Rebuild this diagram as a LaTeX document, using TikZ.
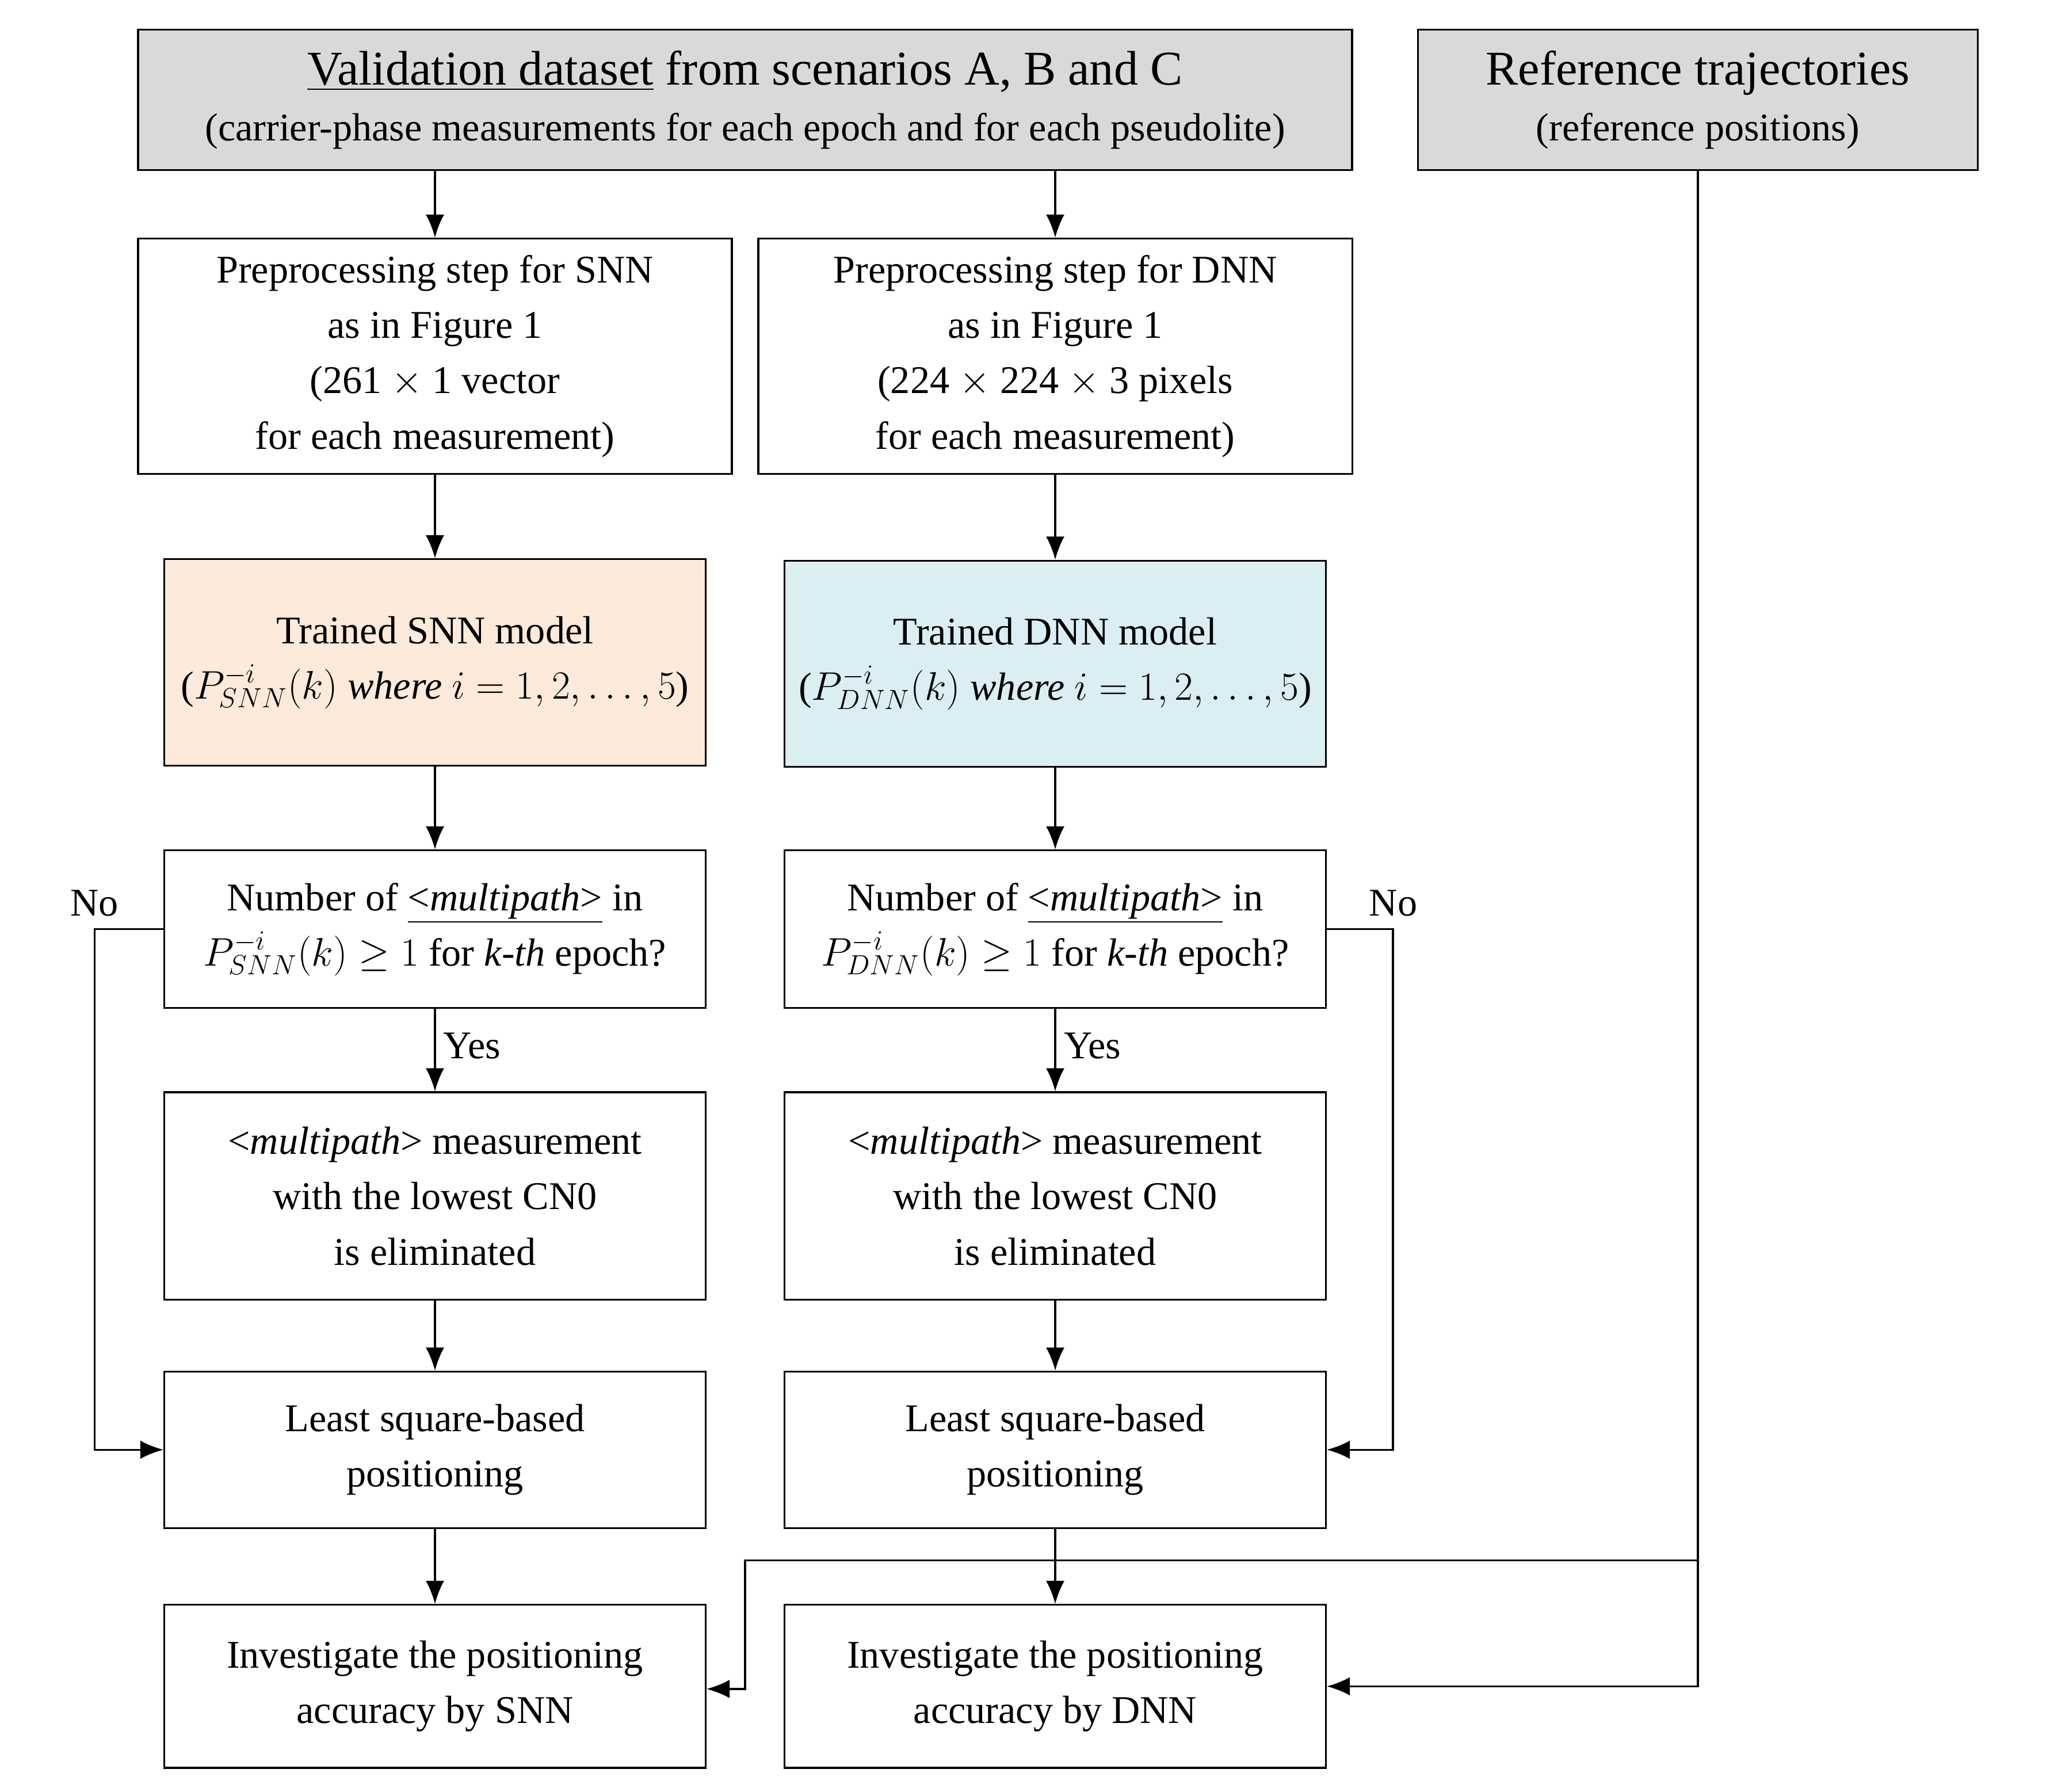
\documentclass[tikz,border=0pt]{standalone}
\usepackage{fontspec}
\setmainfont{Liberation Serif}
\usetikzlibrary{arrows.meta,positioning}
\definecolor{boxgray}{RGB}{217,217,217}
\definecolor{snnfill}{RGB}{253,234,218}
\definecolor{dnnfill}{RGB}{218,238,243}
\tikzset{
  box/.style={draw,thick,align=center,inner sep=2pt,font=\fontsize{17}{24}\selectfont},
  wbox/.style={box,minimum width=8.24cm},
  flow/.style={thick,-{Latex[length=10pt,width=8pt]}},
  lbl/.style={font=\fontsize{17}{20}\selectfont}
}
\begin{document}
\begin{tikzpicture}[x=0.02cm,y=-0.02cm]
\useasboundingbox (0,0) rectangle (1560,1363);
% top row
\node[box,fill=boxgray,minimum width=18.48cm,minimum height=2.14cm] (val) at (567,76)
  {{\fontsize{21}{26}\selectfont\underline{Validation dataset} from scenarios A, B and C}\\
   (carrier-phase measurements for each epoch and for each pseudolite)};
\node[box,fill=boxgray,minimum width=8.52cm,minimum height=2.14cm] (ref) at (1292,76)
  {{\fontsize{21}{26}\selectfont Reference trajectories}\\(reference positions)};
% preprocessing
\node[box,minimum width=9.04cm,minimum height=3.58cm] (preS) at (331,271)
  {Preprocessing step for SNN\\as in Figure 1\\(261 $\times$ 1 vector\\for each measurement)};
\node[box,minimum width=9.04cm,minimum height=3.58cm] (preD) at (803,271)
  {Preprocessing step for DNN\\as in Figure 1\\(224 $\times$ 224 $\times$ 3 pixels\\for each measurement)};
% models
\node[wbox,fill=snnfill,minimum height=3.14cm] (modS) at (331,504)
  {Trained SNN model\\($P^{-i}_{SNN}(k)$ \textit{where} $i=1,2,\ldots,5$)};
\node[wbox,fill=dnnfill,minimum height=3.14cm] (modD) at (803,505)
  {Trained DNN model\\($P^{-i}_{DNN}(k)$ \textit{where} $i=1,2,\ldots,5$)};
% decisions
\node[wbox,minimum height=2.4cm] (decS) at (331,707)
  {Number of \underline{<\textit{multipath}>} in\\$P^{-i}_{SNN}(k)\geq 1$ for \textit{k-th} epoch?};
\node[wbox,minimum height=2.4cm] (decD) at (803,707)
  {Number of \underline{<\textit{multipath}>} in\\$P^{-i}_{DNN}(k)\geq 1$ for \textit{k-th} epoch?};
% elimination
\node[wbox,minimum height=3.16cm] (elS) at (331,910)
  {<\textit{multipath}> measurement\\with the lowest CN0\\is eliminated};
\node[wbox,minimum height=3.16cm] (elD) at (803,910)
  {<\textit{multipath}> measurement\\with the lowest CN0\\is eliminated};
% positioning
\node[wbox,minimum height=2.38cm] (lsS) at (331,1103) {Least square-based\\positioning};
\node[wbox,minimum height=2.38cm] (lsD) at (803,1103) {Least square-based\\positioning};
% accuracy
\node[wbox,minimum height=2.48cm] (invS) at (331,1283) {Investigate the positioning\\accuracy by SNN};
\node[wbox,minimum height=2.48cm] (invD) at (803,1283) {Investigate the positioning\\accuracy by DNN};
% vertical flow
\draw[flow] (val.south -| preS) -- (preS);
\draw[flow] (val.south -| preD) -- (preD);
\draw[flow] (preS) -- (modS);
\draw[flow] (preD) -- (modD);
\draw[flow] (modS) -- (decS);
\draw[flow] (modD) -- (decD);
\draw[flow] (decS) -- node[lbl,right,pos=0.45]{Yes} (elS);
\draw[flow] (decD) -- node[lbl,right,pos=0.45]{Yes} (elD);
\draw[flow] (elS) -- (lsS);
\draw[flow] (elD) -- (lsD);
\draw[flow] (lsS) -- (invS);
\draw[flow] (lsD) -- (invD);
% no branches
\draw[flow] (decS.west) -- (72,707) node[lbl,above left=2pt and -14pt]{No} |- (lsS.west);
\draw[flow] (decD.east) -- (1060,707) node[lbl,above right=2pt and -14pt]{No} |- (lsD.east);
% reference
\coordinate (rj) at (1292,1187);
\draw[flow] (ref.south) -- (1292,1283) -- (invD.east);
\draw[flow] (rj) -- (567,1187) -- (567,1285) -- (invS.east |- 0,1285);
\end{tikzpicture}
\end{document}
